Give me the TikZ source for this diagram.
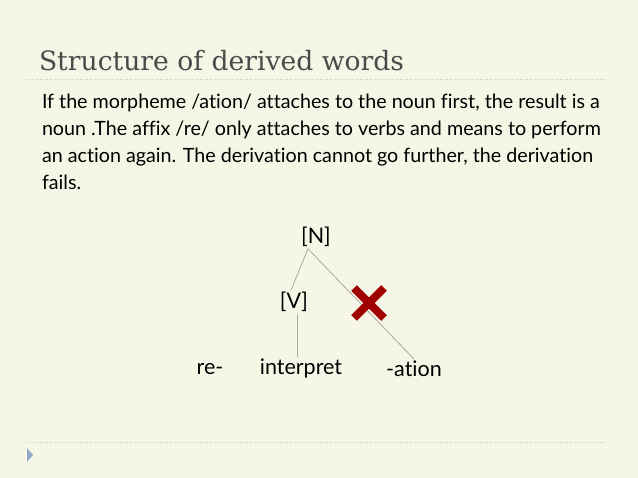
\documentclass[tikz,border=0pt]{standalone}
\usepackage{fontspec}
\setmainfont{Lato}[Ligatures=NoCommon]
\newfontfamily\titlefont{DejaVu Serif}
\usetikzlibrary{calc}
\usetikzlibrary{positioning}

\definecolor{slidebg}{HTML}{F6F6E6}
\definecolor{titlegray}{HTML}{4A4A4A}
\definecolor{rulegray}{HTML}{C8C8C0}
\definecolor{branchgray}{HTML}{A8A8A8}
\definecolor{crossred}{HTML}{A00000}
\definecolor{bulletblue}{HTML}{8FA9C8}

\begin{document}
\begin{tikzpicture}[x=1pt,y=-1pt,
    every node/.style={inner sep=0pt, outer sep=2pt},
    bodyline/.style={anchor=base west, font=\fontsize{19.7}{23}\selectfont},
    treelabel/.style={font=\fontsize{21.5}{24}\selectfont},
    branch/.style={draw=branchgray, line width=0.8pt},
    dotrule/.style={draw=rulegray, line width=1pt, dash pattern=on 1pt off 1.5pt}
  ]
  \fill[slidebg] (0,0) rectangle (638,478);
  \useasboundingbox (0,0) rectangle (638,478);

  % heading
  \node[anchor=base west, text=titlegray, font=\titlefont\fontsize{26.6}{30}\selectfont] (title) at (37,71) {Structure of derived words};
  \coordinate (ruleL) at (27,80);
  \coordinate (ruleR) at (605,80);
  \draw[dotrule] (ruleL) -- (ruleR);

  % paragraph
  \node[bodyline] (line1) at (40,109) {If the morpheme /ation/ attaches to the noun first, the result is a};
  \node[bodyline] (line2) at (40,136) {noun .The affix /re/ only attaches to verbs and means to perform};
  \node[bodyline] (line3) at (40,163) {an action again. The derivation cannot go further, the derivation};
  \node[bodyline] (line4) at (40,190) {fails.};

  % tree
  \node[treelabel] (nN) at (316,237) {[N]};
  \node[treelabel] (nV) at (294,302) {[V]};
  \node[treelabel] (interpret) at (301,369) {interpret};
  \node[treelabel] (re) at (210,369) {re-};
  \node[treelabel] (ation) at (414,369) {-ation};

  \coordinate (nNfoot) at ($(nN.south)+(-8,0)$);
  \draw[branch] (nNfoot) -- ($(nV.north)+(-3,0)$);
  \draw[branch] (nNfoot) -- (ation.north);
  \draw[branch] ($(nV.south)+(3,0)$) -- ($(nV.south |- interpret.north)+(3,0)$);

  % blocked attachment
  \node[minimum size=34pt] (cross) at (369,303) {};
  \draw[crossred, line width=8pt]
    ($(cross.center)+(-15,-15)$) -- ($(cross.center)+(15,15)$)
    ($(cross.center)+(15,-15)$) -- ($(cross.center)+(-15,15)$);

  % footer
  \coordinate (footL) at (27,443);
  \coordinate (footR) at (605,443);
  \draw[dotrule] (footL) -- (footR);
  \fill[bulletblue] (27,448) -- (33,455) -- (27,462) -- cycle;
\end{tikzpicture}
\end{document}
